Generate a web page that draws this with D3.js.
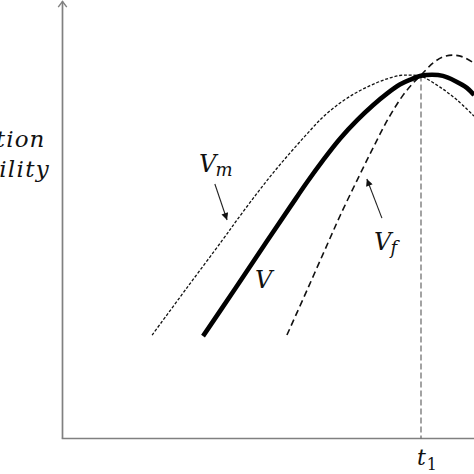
<!DOCTYPE html>
<html>
<head>
<meta charset="utf-8">
<script src="https://cdn.jsdelivr.net/npm/d3@7"></script>
<style>
  html, body { margin: 0; padding: 0; background: #fff; }
  svg { display: block; }
  text { font-family: "DejaVu Serif", serif; font-style: italic; fill: #111; }
</style>
</head>
<body>
<svg id="chart" width="474" height="474"></svg>
<script>
// ---- data (time in units where t1 = 100, value in units where the joint peak = 100) ----
const vX  = [39.2, 48.1, 56.5, 63.5, 68.2, 72.7, 77.4, 82.2, 86.6, 90.5, 94.1, 96.9, 100, 103.1, 106.1, 109.5, 112.8, 114.8];
const vY  = [28.2, 41.2, 53.6, 63.8, 70.6, 76.7, 82.6, 87.7, 91.8, 95.0, 97.5, 98.8, 99.9, 100.2, 99.9, 98.5, 96.6, 94.6];

const vmX = [25.0, 34.7, 44.5, 49.5, 54.3, 58.7, 63.5, 68.2, 72.7, 77.4, 81.6, 85.8, 90.0, 94.1, 96.9, 100, 105.3, 110.0, 114.8];
const vmY = [28.5, 41.5, 54.5, 61.3, 67.6, 73.1, 78.7, 83.9, 88.6, 92.4, 95.1, 97.2, 98.9, 100, 100.1, 99.8, 96.8, 93.3, 88.8];

const vfX = [62.6, 68.5, 74.1, 77.4, 82.2, 86.6, 90.8, 95.0, 97.8, 100, 103.3, 106.1, 108.7, 111.7, 114.8];
const vfY = [28.5, 41.5, 54.0, 61.3, 71.2, 80.0, 88.0, 94.6, 97.9, 100.1, 103.4, 105.1, 105.6, 105.1, 103.4];

const t1 = 100;
const yLabelLines = ["Population", "viability"];
const curveLabels = [
  { main: "V", sub: "m", x: 38.1, y: 73.4 },
  { main: "V", sub: "",  x: 53.7, y: 41.5 },
  { main: "V", sub: "f", x: 86.9, y: 51.9 }
];
const pointers = [
  { from: [42.5, 70.1], to: [45.9, 60.2] },
  { from: [89.1, 60.7], to: [84.9, 71.5] }
];

// ---- scales ----
const W = 474, H = 474;
const x = d3.scaleLinear().domain([0, 115]).range([62.5, 62.5 + 115 * 3.585]);
const y = d3.scaleLinear().domain([0, 100]).range([438.5, 75.5]);

const svg = d3.select("#chart");

const defs = svg.append("defs");
defs.append("marker")
  .attr("id", "ah").attr("viewBox", "0 0 10 10")
  .attr("refX", 10).attr("refY", 5)
  .attr("markerWidth", 8).attr("markerHeight", 7)
  .attr("markerUnits", "userSpaceOnUse")
  .attr("orient", "auto")
  .append("path").attr("d", "M0,0 L10,5 L0,10 Z").attr("fill", "#111");

// ---- axes ----
const axisColor = "#808080";
svg.append("line")
  .attr("x1", x(0)).attr("x2", x(0))
  .attr("y1", y(0)).attr("y2", 1.5)
  .attr("stroke", axisColor).attr("stroke-width", 1.7);
svg.append("path")
  .attr("d", `M${x(0) - 4.3},7.2 L${x(0)},1.5 L${x(0) + 4.3},7.2`)
  .attr("fill", "none").attr("stroke", axisColor).attr("stroke-width", 1.4);
svg.append("line")
  .attr("x1", x(0) - 0.8).attr("x2", W + 2)
  .attr("y1", y(0)).attr("y2", y(0))
  .attr("stroke", axisColor).attr("stroke-width", 1.7);

// t1 marker line
svg.append("line")
  .attr("x1", x(t1)).attr("x2", x(t1))
  .attr("y1", y(100)).attr("y2", y(0))
  .attr("stroke", "#666").attr("stroke-width", 1.2)
  .attr("stroke-dasharray", "6,3");

// ---- curves ----
const line = d3.line()
  .x(d => x(d[0])).y(d => y(d[1]))
  .curve(d3.curveCatmullRom.alpha(0.5));

const zip = (a, b) => a.map((v, i) => [v, b[i]]);

svg.append("path").datum(zip(vmX, vmY))
  .attr("d", line).attr("fill", "none")
  .attr("stroke", "#111").attr("stroke-width", 1.3)
  .attr("stroke-dasharray", "3,1.8");

svg.append("path").datum(zip(vfX, vfY))
  .attr("d", line).attr("fill", "none")
  .attr("stroke", "#111").attr("stroke-width", 1.6)
  .attr("stroke-dasharray", "6.5,4");

svg.append("path").datum(zip(vX, vY))
  .attr("d", line).attr("fill", "none")
  .attr("stroke", "#000").attr("stroke-width", 4.6)
  .attr("stroke-linecap", "butt");

// ---- pointers ----
pointers.forEach(p => {
  svg.append("line")
    .attr("x1", x(p.from[0])).attr("y1", y(p.from[1]))
    .attr("x2", x(p.to[0])).attr("y2", y(p.to[1]))
    .attr("stroke", "#222").attr("stroke-width", 1.1)
    .attr("marker-end", "url(#ah)");
});

// ---- labels ----
curveLabels.forEach(l => {
  const t = svg.append("text")
    .attr("x", x(l.x)).attr("y", y(l.y))
    .attr("font-size", 24);
  t.append("tspan").text(l.main);
  if (l.sub) {
    t.append("tspan").attr("font-size", 18).attr("dx", -1).attr("dy", 4).text(l.sub);
  }
});

// t1
const tl = svg.append("text")
  .attr("x", x(t1) - 4).attr("y", 465)
  .attr("font-size", 22);
tl.append("tspan").text("t");
tl.append("tspan").attr("font-size", 16).attr("font-style", "normal").attr("dx", 1).attr("dy", 5).text("1");

// y-axis title (runs past the left edge, as in the reference)
svg.append("text").attr("x", 45.5).attr("y", 147)
  .attr("font-size", 23).attr("letter-spacing", 1.1)
  .attr("text-anchor", "end").text(yLabelLines[0]);
svg.append("text").attr("x", 50).attr("y", 177)
  .attr("font-size", 23).attr("letter-spacing", 1.3)
  .attr("text-anchor", "end").text(yLabelLines[1]);
</script>
</body>
</html>
